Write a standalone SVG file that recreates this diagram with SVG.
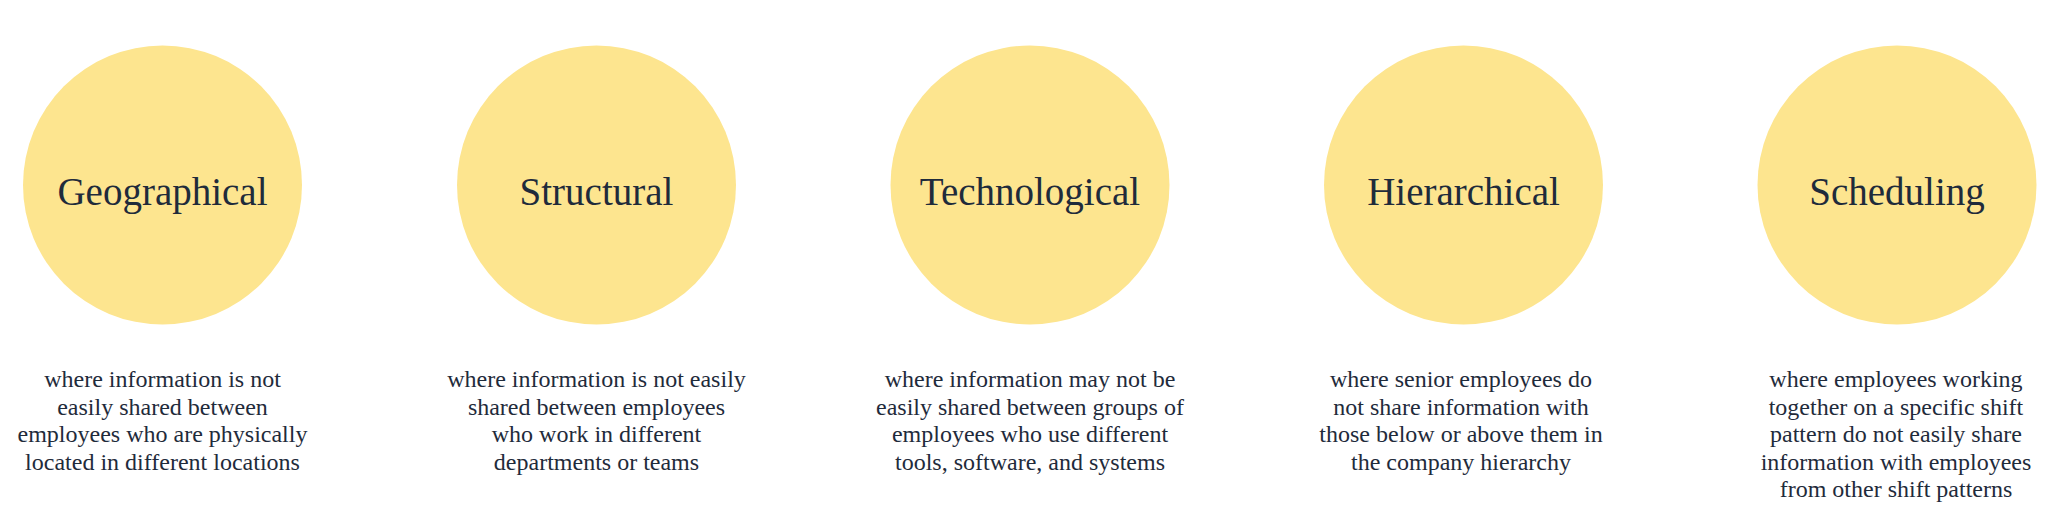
<svg xmlns="http://www.w3.org/2000/svg" width="2054" height="522" viewBox="0 0 2054 522">
<style>
.c{fill:#fde58f}
.t{font-family:"Liberation Serif","DejaVu Serif",serif;font-size:39px;fill:#1f2b3b;text-anchor:middle}
.d{font-family:"Liberation Serif","DejaVu Serif",serif;font-size:24px;fill:#1f2b3b;text-anchor:middle}
</style>
<rect width="2054" height="522" fill="#ffffff"/>
<g id="geographical">
<circle class="c" cx="162.5" cy="185" r="139.5"/>
<text class="t" x="162.5" y="205">Geographical</text>
<text class="d" x="162.5" y="387">where information is not</text>
<text class="d" x="162.5" y="414.5">easily shared between</text>
<text class="d" x="162.5" y="442">employees who are physically</text>
<text class="d" x="162.5" y="469.5">located in different locations</text>
</g>
<g id="structural">
<circle class="c" cx="596.5" cy="185" r="139.5"/>
<text class="t" x="596.5" y="205">Structural</text>
<text class="d" x="596.5" y="387">where information is not easily</text>
<text class="d" x="596.5" y="414.5">shared between employees</text>
<text class="d" x="596.5" y="442">who work in different</text>
<text class="d" x="596.5" y="469.5">departments or teams</text>
</g>
<g id="technological">
<circle class="c" cx="1030" cy="185" r="139.5"/>
<text class="t" x="1030" y="205">Technological</text>
<text class="d" x="1030" y="387">where information may not be</text>
<text class="d" x="1030" y="414.5">easily shared between groups of</text>
<text class="d" x="1030" y="442">employees who use different</text>
<text class="d" x="1030" y="469.5">tools, software, and systems</text>
</g>
<g id="hierarchical">
<circle class="c" cx="1463.5" cy="185" r="139.5"/>
<text class="t" x="1463.5" y="205">Hierarchical</text>
<text class="d" x="1461" y="387">where senior employees do</text>
<text class="d" x="1461" y="414.5">not share information with</text>
<text class="d" x="1461" y="442">those below or above them in</text>
<text class="d" x="1461" y="469.5">the company hierarchy</text>
</g>
<g id="scheduling">
<circle class="c" cx="1897" cy="185" r="139.5"/>
<text class="t" x="1897" y="205">Scheduling</text>
<text class="d" x="1896" y="387">where employees working</text>
<text class="d" x="1896" y="414.5">together on a specific shift</text>
<text class="d" x="1896" y="442">pattern do not easily share</text>
<text class="d" x="1896" y="469.5">information with employees</text>
<text class="d" x="1896" y="497">from other shift patterns</text>
</g>
<g id="connectors"/>
</svg>
